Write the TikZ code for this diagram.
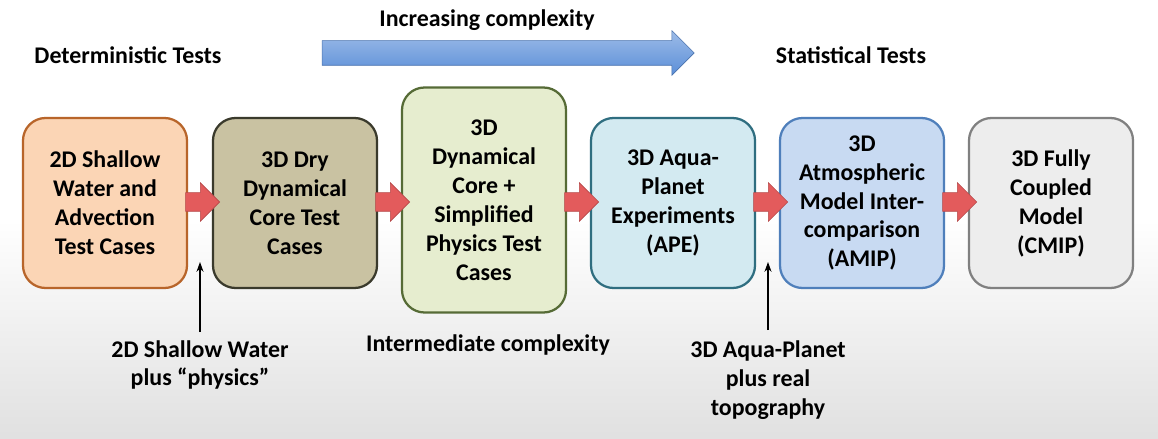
\documentclass[tikz,border=0pt]{standalone}
\usepackage{fontspec}
\setmainfont{Carlito}
\usetikzlibrary{positioning,shapes.arrows}
\definecolor{fillA}{HTML}{FBD5B5}\definecolor{drawA}{HTML}{B8652A}
\definecolor{fillB}{HTML}{C9C2A2}\definecolor{drawB}{HTML}{3A3A2C}
\definecolor{fillC}{HTML}{E6EDCF}\definecolor{drawC}{HTML}{566B36}
\definecolor{fillD}{HTML}{D3EAF1}\definecolor{drawD}{HTML}{2F6E80}
\definecolor{fillE}{HTML}{C8DAF2}\definecolor{drawE}{HTML}{4F7FBB}
\definecolor{fillF}{HTML}{EDEDED}\definecolor{drawF}{HTML}{808080}
\definecolor{redarrow}{HTML}{E35B5C}
\definecolor{bluearrow}{HTML}{5B8FD8}
\newcommand{\unitpx}{*0.025cm}
\tikzset{
  stage/.style={rectangle, rounded corners=16pt, line width=1.6pt, minimum width=164\unitpx, minimum height=170\unitpx, align=center, font=\fontsize{17}{20.6}\selectfont\bfseries},
  flowarrow/.style={single arrow, fill=redarrow, draw=redarrow!80!black, minimum width=36\unitpx, minimum height=34\unitpx, inner sep=9\unitpx},
  note/.style={align=center, font=\fontsize{17}{20.6}\selectfont\bfseries},
  pointer/.style={line width=0.9pt,-{Stealth[length=7pt,width=5pt]}}
}
\usetikzlibrary{arrows.meta}
\begin{document}
\begin{tikzpicture}[x=0.025cm, y=-0.025cm]
	% Background
	\shade[top color=white, bottom color=black!12, middle color=white] (0,0) rectangle (1158,439);
	\useasboundingbox (0,0) rectangle (1158,439);
	% Place nodes
	\node [stage, fill=fillA, draw=drawA] (ShallowWater) at (105,203) {2D Shallow\\Water and\\Advection\\Test Cases};
	\node [stage, fill=fillB, draw=drawB] (DryCore) at (295,203) {3D Dry\\Dynamical\\Core Test\\Cases};
	\node [stage, fill=fillC, draw=drawC, minimum height=225\unitpx] (SimplePhysics) at (484,200) {3D\\Dynamical\\Core +\\Simplified\\Physics Test\\Cases};
	\node [stage, fill=fillD, draw=drawD] (AquaPlanet) at (673,203) {3D Aqua-\\Planet\\Experiments\\(APE)};
	\node [stage, fill=fillE, draw=drawE] (AMIP) at (862,203) {3D\\Atmospheric\\Model Inter-\\comparison\\(AMIP)};
	\node [stage, fill=fillF, draw=drawF] (CMIP) at (1051,203) {3D Fully\\Coupled\\Model\\(CMIP)};
	% Red arrows
	\node [flowarrow] (StepA) at (198,202) {};
	\node [flowarrow] (StepB) at (388,202) {};
	\node [flowarrow] (StepC) at (577,202) {};
	\node [flowarrow] (StepD) at (766,202) {};
	\node [flowarrow] (StepE) at (955,202) {};
	% Top labels
	\node [note] (Deterministic) at (128,55) {Deterministic Tests};
	\node [note] (Statistical) at (851,55) {Statistical Tests};
	\node [note] (Complexity) at (487,20) {Increasing complexity};
	\node [single arrow, draw=bluearrow!80!black, minimum width=38\unitpx, minimum height=372\unitpx, inner sep=12\unitpx, top color=bluearrow!60!white, bottom color=bluearrow] (Trend) at (502,53) {};
	% Bottom labels
	\node [note] (ShallowPhysics) at (200,365) {2D Shallow Water\\plus ``physics''};
	\node [note] (Intermediate) at (488,345) {Intermediate complexity};
	\node [note] (Topography) at (768,380) {3D Aqua-Planet\\plus real\\topography};
	\coordinate (TailA) at (200,332);
	\coordinate (TailB) at (768,330);
	\coordinate (GapA) at (200,262);
	\coordinate (GapB) at (768,262);
	\draw [pointer] (TailA) -- (GapA);
	\draw [pointer] (TailB) -- (GapB);
\end{tikzpicture}
\end{document}
